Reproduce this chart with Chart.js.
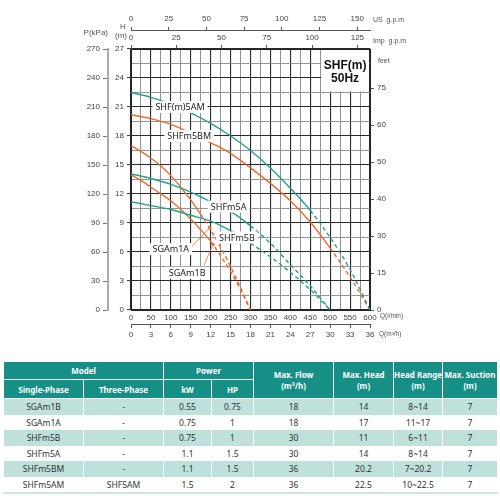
<!DOCTYPE html>
<html><head><meta charset="utf-8">
<script src="https://cdn.jsdelivr.net/npm/chart.js@4.4.1/dist/chart.umd.min.js"></script>
<style>
html,body{margin:0;padding:0;background:#fff;}
#wrap{position:absolute;left:0;top:0;width:500px;height:350px;}
table{position:absolute;left:3px;top:361px;width:494px;border-collapse:collapse;table-layout:fixed;font-family:"Noto Sans",sans-serif;font-size:8.5px;color:#333;}
th{background:#168f87;color:#fff;font-weight:700;font-size:8px;border:1px solid #fff;padding:0;line-height:11px;text-align:center;white-space:nowrap;overflow:hidden;}
td{border-left:1px solid #fff;border-right:1px solid #fff;text-align:center;padding:0;height:15.5px;}
tr.alt td{background:#bfe1dc;}
tbody tr:last-child td{border-bottom:2px solid #cfe6e2;}
</style></head><body>
<div id="wrap"><canvas id="c" width="500" height="350"></canvas></div>
<table id="t"><colgroup><col style="width:80px"><col style="width:80px"><col style="width:48px"><col style="width:42px"><col style="width:80px"><col style="width:60px"><col style="width:49px"><col style="width:55px"></colgroup>
<thead>
<tr style="height:18px"><th colspan="2">Model</th><th colspan="2">Power</th><th rowspan="2">Max. Flow<br>(m³/h)</th><th rowspan="2">Max. Head<br>(m)</th><th rowspan="2">Head Range<br>(m)</th><th rowspan="2">Max. Suction<br>(m)</th></tr>
<tr style="height:19px"><th>Single-Phase</th><th>Three-Phase</th><th>kW</th><th>HP</th></tr>
</thead><tbody id="tb"></tbody></table>
<script>
// ---- curve data: Q (l/min) and H (m) ----
const qSHF5AM  = [0,50,100,150,200,250,300,350,400,450,500,550,600];
const hSHF5AM  = [22.5,22.0,21.3,20.4,19.3,18.0,16.5,14.7,12.6,10.3,7.5,4.2,0];
const qSHFm5BM = [0,50,100,150,200,250,300,350,400,450,500,550,600];
const hSHFm5BM = [20.2,19.8,19.2,18.3,17.3,16.2,14.7,13.1,11.3,9.1,6.4,3.4,0];
const qSHFm5A  = [0,50,100,150,200,250,300,350,400,450,500];
const hSHFm5A  = [14.1,13.6,13.0,12.2,11.2,10.2,8.7,6.9,4.7,2.5,0];
const qSHFm5B  = [0,50,100,150,200,250,300,350,400,450,500];
const hSHFm5B  = [11.2,10.8,10.4,9.8,9.2,8.2,6.9,5.5,3.9,2.1,0];
const qSGAm1A  = [0,25,50,75,100,125,150,175,200,225,250,275,300];
const hSGAm1A  = [17.0,16.4,15.7,14.9,13.9,12.7,11.4,9.9,8.3,6.5,4.5,2.3,0];
const qSGAm1B  = [0,25,50,75,100,125,150,175,200,225,250,275,300];
const hSGAm1B  = [14.0,13.4,12.7,12.0,11.3,10.4,9.4,8.3,7.1,5.6,4.0,2.1,0];
// flow from which each curve is drawn dashed
const dashFrom = {SHF5AM:450, SHFm5BM:500, SHFm5A:300, SHFm5B:300, SGAm1A:175, SGAm1B:200};

// ---- tick labels ----
const usGpmTicks  = [0,25,50,75,100,125,150];
const impGpmTicks = [0,25,50,75,100,125];
const m3hTicks    = [0,3,6,9,12,15,18,21,24,27,30,33,36];
const kpaTicks    = [0,30,60,90,120,150,180,210,240,270];
const feetLabels  = ['0','15','30','40','50','60','75'];

// ---- table data ----
const singlePhase = ['SGAm1B','SGAm1A','SHFm5B','SHFm5A','SHFm5BM','SHFm5AM'];
const threePhase  = ['-','-','-','-','-','SHF5AM'];
const powerKW     = ['0.55','0.75','0.75','1.1','1.1','1.5'];
const powerHP     = ['0.75','1','1','1.5','1.5','2'];
const maxFlow     = ['18','18','30','30','36','36'];
const maxHead     = ['14','17','11','14','20.2','22.5'];
const headRange   = ['8~14','11~17','6~11','8~14','7~20.2','10~22.5'];
const maxSuction  = ['7','7','7','7','7','7'];

const tb = document.getElementById('tb');
singlePhase.forEach((m,i)=>{
  const tr = document.createElement('tr');
  if(i%2===0) tr.className='alt';
  [m,threePhase[i],powerKW[i],powerHP[i],maxFlow[i],maxHead[i],headRange[i],maxSuction[i]].forEach(v=>{
    const td=document.createElement('td'); td.textContent=v; tr.appendChild(td);
  });
  tb.appendChild(tr);
});

const TEAL='#1fa194', ORANGE='#ee6a2d';
function ds(name,q,h,color){
  return {label:name,data:q.map((x,i)=>({x:x,y:h[i]})),borderColor:color,borderWidth:1.4,
    pointRadius:0,fill:false,cubicInterpolationMode:'monotone',xAxisID:'x',yAxisID:'y',
    segment:{borderDash:ctx=>ctx.p0.parsed.x>=dashFrom[name]?[4,3]:undefined}};
}

const curveLabels = [
  {text:'SHF(m)5AM',q:123,h:21},
  {text:'SHFm5BM',q:146,h:18},
  {text:'SHFm5A',q:245,h:10.7},
  {text:'SHFm5B',q:266,h:7.5},
  {text:'SGAm1A',q:100,h:6.3},
  {text:'SGAm1B',q:141,h:3.85}
];
const pointers = [
  {from:[151,6.5],to:[198,8.5]},
  {from:[183,4.6],to:[206,6.8]}
];
const tickFont={family:'"Liberation Sans", Arial, sans-serif',size:8};

const overlay = {
  id:'overlay',
  beforeDatasetsDraw(chart){
    const c=chart.ctx,x=chart.scales.x,y=chart.scales.y;
    const l=x.getPixelForValue(475)+1,r=x.getPixelForValue(600)-1,t=y.getPixelForValue(27)+1,b=y.getPixelForValue(22.5)-1;
    c.save();c.fillStyle='#fff';c.fillRect(l,t,r-l,b-t);
    c.fillStyle='#111';c.font='bold 12px "Liberation Sans", Arial, sans-serif';c.textAlign='center';c.textBaseline='middle';
    c.fillText('SHF(m)',(l+r)/2,t+16);c.fillText('50Hz',(l+r)/2,t+29);
    c.restore();
  },
  afterDatasetsDraw(chart){
    const c=chart.ctx,x=chart.scales.x,y=chart.scales.y;
    c.save();
    c.strokeStyle=ORANGE;c.fillStyle=ORANGE;c.lineWidth=0.8;
    pointers.forEach(p=>{
      const x0=x.getPixelForValue(p.from[0]),y0=y.getPixelForValue(p.from[1]);
      const x1=x.getPixelForValue(p.to[0]),y1=y.getPixelForValue(p.to[1]);
      c.beginPath();c.moveTo(x0,y0);c.lineTo(x1,y1);c.stroke();
      c.beginPath();c.arc(x1,y1,1.6,0,Math.PI*2);c.fill();
    });
    c.font='9px "Noto Sans", sans-serif';c.textAlign='center';c.textBaseline='middle';
    curveLabels.forEach(L=>{
      const px=x.getPixelForValue(L.q),py=y.getPixelForValue(L.h);
      const w=c.measureText(L.text).width+6;
      c.fillStyle='#fff';c.fillRect(px-w/2,py-6,w,12);
      c.fillStyle='#222';c.fillText(L.text,px,py+0.5);
    });
    c.restore();
  },
  afterDraw(chart){
    const c=chart.ctx,a=chart.chartArea;
    c.save();c.fillStyle='#555';c.textBaseline='middle';
    c.font='8px "Liberation Sans", Arial, sans-serif';
    c.textAlign='right';c.fillText('P(kPa)',a.left-23,33);
    c.textAlign='center';c.fillText('H',a.left-8,27);c.fillText('(m)',a.left-10,36);
    c.font='7px "Liberation Sans", Arial, sans-serif';c.textAlign='left';
    c.fillText('US  g.p.m',a.right+3,20);
    c.fillText('Imp  g.p.m',a.right+3,41);
    c.fillText('feet',a.right+8,61);
    c.font='6.5px "Liberation Sans", Arial, sans-serif';
    c.fillText('Q(l/min)',a.right+10,316);
    c.fillText('Q(m³/h)',a.right+9,334);
    c.restore();
  }
};

const isMaj=(v,s)=>Math.abs(v/s-Math.round(v/s))<1e-6;

new Chart(document.getElementById('c'),{
  type:'line',
  data:{datasets:[
    ds('SHF5AM',qSHF5AM,hSHF5AM,TEAL),
    ds('SHFm5BM',qSHFm5BM,hSHFm5BM,ORANGE),
    ds('SHFm5A',qSHFm5A,hSHFm5A,TEAL),
    ds('SHFm5B',qSHFm5B,hSHFm5B,TEAL),
    ds('SGAm1A',qSGAm1A,hSGAm1A,ORANGE),
    ds('SGAm1B',qSGAm1B,hSGAm1B,ORANGE)
  ]},
  options:{
    responsive:false,animation:false,
    layout:{autoPadding:false,padding:{left:0,top:0,right:90,bottom:6}},
    plugins:{legend:{display:false},tooltip:{enabled:false}},
    scales:{
      x:{type:'linear',position:'bottom',weight:0,min:0,max:600,
        ticks:{stepSize:25,autoSkip:false,maxRotation:0,padding:3,color:'#444',font:tickFont,
          callback:v=>isMaj(v,50)?String(v):''},
        grid:{drawTicks:false,color:c=>isMaj(c.tick.value,50)?'#2a2a2a':'#777',lineWidth:c=>isMaj(c.tick.value,50)?1.1:0.8},
        border:{color:'#222'},afterFit:s=>{s.height=14;}},
      x2:{type:'linear',position:'bottom',weight:1,min:0,max:36,
        afterBuildTicks:s=>{s.ticks=m3hTicks.map(v=>({value:v}));},
        ticks:{autoSkip:false,maxRotation:0,padding:2,color:'#444',font:tickFont},
        grid:{drawOnChartArea:false,tickLength:4,color:'#555'},
        border:{color:'#555'},afterFit:s=>{s.height=20;}},
      x3:{type:'linear',position:'top',weight:0,min:0,max:600/4.54609,
        afterBuildTicks:s=>{s.ticks=impGpmTicks.map(v=>({value:v}));},
        ticks:{autoSkip:false,maxRotation:0,padding:2,color:'#444',font:tickFont},
        grid:{drawOnChartArea:false,tickLength:4,color:'#555'},
        border:{color:'#222'},afterFit:s=>{s.height=19;}},
      x4:{type:'linear',position:'top',weight:1,min:0,max:600/3.78541,
        afterBuildTicks:s=>{s.ticks=usGpmTicks.map(v=>({value:v}));},
        ticks:{autoSkip:false,maxRotation:0,padding:3,color:'#444',font:tickFont},
        grid:{drawOnChartArea:false,tickLength:3,color:'#555'},
        border:{color:'#555'},afterFit:s=>{s.height=30;}},
      y:{type:'linear',position:'left',weight:0,min:0,max:27,
        ticks:{stepSize:1.5,autoSkip:false,padding:3,color:'#444',font:tickFont,
          callback:v=>isMaj(v,3)?String(v):''},
        grid:{tickLength:4,color:c=>isMaj(c.tick.value,3)?'#2a2a2a':'#8a8a8a',
          tickColor:c=>isMaj(c.tick.value,3)?'#444':'rgba(0,0,0,0)',lineWidth:c=>isMaj(c.tick.value,3)?1.1:0.9},
        border:{color:'#222'},afterFit:s=>{s.width=23;}},
      y2:{type:'linear',position:'left',weight:1,min:0,max:270,
        afterBuildTicks:s=>{s.ticks=kpaTicks.map(v=>({value:v}));},
        ticks:{autoSkip:false,padding:3,color:'#444',font:tickFont},
        grid:{drawOnChartArea:false,tickLength:5,color:'#777'},
        border:{color:'#aaa',width:2},afterFit:s=>{s.width=108;}},
      y3:{type:'linear',position:'right',weight:0,min:0,max:261/37,
        afterBuildTicks:s=>{s.ticks=feetLabels.map((_,i)=>({value:i}));},
        ticks:{autoSkip:false,padding:3,color:'#444',font:tickFont,callback:(v,i)=>feetLabels[i]},
        grid:{drawOnChartArea:false,tickLength:4,color:'#555'},
        border:{color:'#222'},afterFit:s=>{s.width=40;}}
    }
  },
  plugins:[overlay]
});
</script>
</body></html>
